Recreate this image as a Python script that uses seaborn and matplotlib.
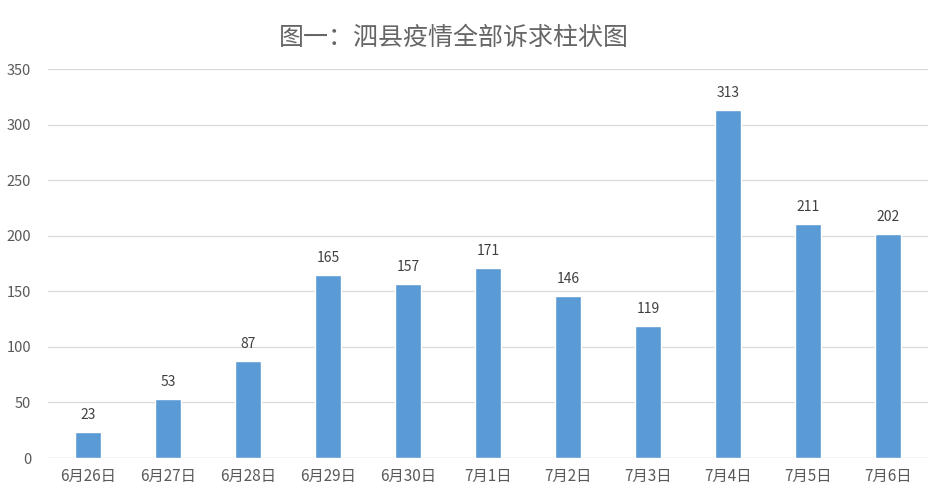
import matplotlib
matplotlib.use('Agg')
import matplotlib.pyplot as plt
import seaborn as sns
import pandas as pd

dates = ['6月26日', '6月27日', '6月28日', '6月29日', '6月30日', '7月1日',
         '7月2日', '7月3日', '7月4日', '7月5日', '7月6日']
counts = [23, 53, 87, 165, 157, 171, 146, 119, 313, 211, 202]
yticks = [0, 50, 100, 150, 200, 250, 300, 350]

df = pd.DataFrame({'date': dates, 'count': counts})

sns.set_style('white')
plt.rcParams['font.family'] = ['Noto Sans CJK SC', 'DejaVu Sans']

fig = plt.figure(figsize=(9.5, 5.01), dpi=100)
ax = fig.add_axes([0.0505, 0.0858, 0.9265, 0.776])

sns.barplot(data=df, x='date', y='count', color='#5B9BD5', width=0.33,
            saturation=1, ax=ax, zorder=3)

for i, v in enumerate(counts):
    ax.text(i, v + 9, str(v), ha='center', va='bottom', fontsize=10, color='#404040')

ax.set_ylim(0, 350)
ax.set_xlim(-0.5, len(dates) - 0.5)
ax.set_yticks(yticks)
ax.grid(axis='y', color='#d9d9d9', linewidth=0.9, zorder=0)
for s in ax.spines.values():
    s.set_visible(False)
ax.axhline(0, color='#d9d9d9', linewidth=1, zorder=2)
ax.tick_params(axis='both', length=0, labelsize=11, colors='#595959')
ax.tick_params(axis='y', labelsize=10.5, pad=12)
ax.tick_params(axis='x', pad=7)
ax.set_xlabel('')
ax.set_ylabel('')

fig.suptitle('图一：泗县疫情全部诉求柱状图', x=0.478, y=0.95, fontsize=18,
             color='#666666', fontweight='light')

fig.savefig('out.png', dpi=100)
